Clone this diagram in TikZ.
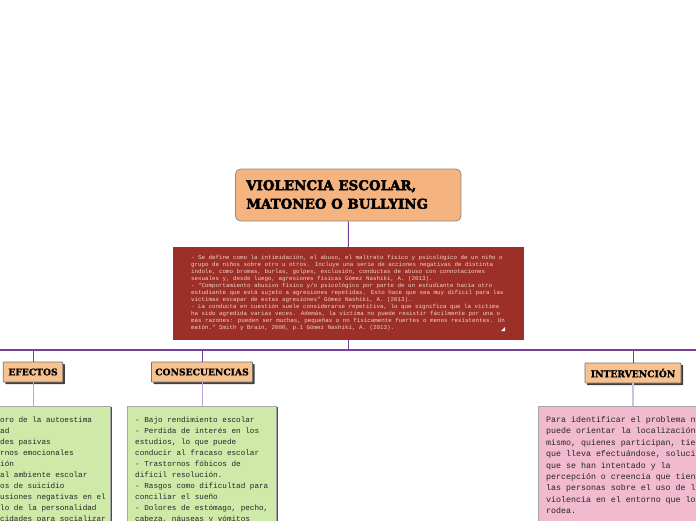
\documentclass[tikz,border=0pt]{standalone}
\usepackage{fontspec}
\usetikzlibrary{shadows}
\setmainfont{Liberation Sans}
\newfontfamily\titlefont[FakeBold=3]{DejaVu Serif Bold}
\newfontfamily\headfont[FakeBold=1]{DejaVu Serif Bold}
\newfontfamily\bodyfont{Liberation Mono}
\definecolor{titlefill}{HTML}{F4B37F}
\definecolor{headfill}{HTML}{F7C290}
\definecolor{descfill}{HTML}{9C2F27}
\definecolor{descink}{HTML}{F2D3C8}
\definecolor{greenfill}{HTML}{CFE9A9}
\definecolor{pinkfill}{HTML}{F1BACE}
\definecolor{trunk}{HTML}{7A3E9D}
\definecolor{twig}{HTML}{BFA3DC}
\tikzset{
	titlebox/.style={draw=black!45,fill=titlefill,rounded corners=5pt,line width=.8pt,inner sep=0pt},
	headbox/.style={draw=black!55,fill=headfill,line width=.7pt,inner sep=0pt,rounded corners=.5pt,
		drop shadow={shadow xshift=2pt,shadow yshift=-2pt,fill=black!75,opacity=1},
		font=\headfont\fontsize{9.2}{10}\selectfont},
	greenbox/.style={draw=black!35,fill=greenfill,line width=.6pt,inner sep=0pt,
		drop shadow={shadow xshift=1.5pt,shadow yshift=-1pt,fill=black!70,opacity=1}},
	pinkbox/.style={draw=black!35,fill=pinkfill,line width=.8pt,inner sep=0pt},
	greentext/.style={anchor=north west,inner sep=0pt,align=left,text=black!85,
		font=\bodyfont\fontsize{7.65}{11}\selectfont},
	pinktext/.style={anchor=north west,inner sep=0pt,align=left,text=black!85,
		font=\bodyfont\fontsize{8.3}{11.45}\selectfont},
}

\begin{document}
\begin{tikzpicture}[x=1pt,y=-1pt]
	\useasboundingbox (0,0) rectangle (696,520);
	\clip (0,0) rectangle (696,520);
	
	%----------------------------
	% Top: title and description
	%----------------------------
	\node[titlebox,minimum width=225.5pt,minimum height=52pt] (title) at (348.25,195) {};
	\node[anchor=west,inner sep=0pt,align=left,font=\titlefont\fontsize{13.4}{18.5}\selectfont] (titletxt) at (246,194.5)
	{VIOLENCIA ESCOLAR,\\MATONEO O BULLYING};
	
	\node[fill=descfill,minimum width=351pt,minimum height=93pt,inner sep=0pt] (desc) at (348.5,293.5) {};
	\node[anchor=north west,inner sep=0pt,align=left,text=descink,
	font=\bodyfont\fontsize{5.83}{7}\selectfont] (desctxt) at (191,255)
	{- Se define como la intimidación, el abuso, el maltrato físico y psicológico de un niño o\\
		grupo de niños sobre otro u otros. Incluye una serie de acciones negativas de distinta\\
		índole, como bromas, burlas, golpes, exclusión, conductas de abuso con connotaciones\\
		sexuales y, desde luego, agresiones físicas Gómez Nashiki, A. (2013).\\
		- "Comportamiento abusivo físico y/o psicológico por parte de un estudiante hacia otro\\
		estudiante que está sujeto a agresiones repetidas. Esto hace que sea muy difícil para las\\
		víctimas escapar de estas agresiones" Gómez Nashiki, A. (2013).\\
		- La conducta en cuestión suele considerarse repetitiva, lo que significa que la víctima\\
		ha sido agredida varias veces. Además, la víctima no puede resistir fácilmente por una o\\
		más razones: pueden ser muchas, pequeñas o no físicamente fuertes o menos resistentes. Un\\
		matón." Smith y Brain, 2000, p.1 Gómez Nashiki, A. (2013).};
	% corner mark
	\fill[white] (505,327) -- (505,331) -- (501,331) -- cycle;
	
	\draw[trunk,line width=1pt] (title) -- (desc);
	
	%----------------------------
	% Middle: main line and headers
	%----------------------------
	\coordinate (trunkL) at (0,350);
	\coordinate (trunkR) at (696,350);
	\coordinate (trunkM) at (desc.south |- trunkL);
	\draw[trunk,line width=1.5pt] (trunkL) -- (trunkR);
	\draw[trunk,line width=1.2pt] (desc) -- (trunkM);
	
	%----------------------------
	% Bottom: text boxes (they run off the page)
	%----------------------------
	\node[greenbox,minimum width=155pt,minimum height=140pt] (efectosbox) at (33,476) {};
	\node[greenbox,minimum width=149pt,minimum height=140pt] (consecbox) at (202,476) {};
	\node[pinkbox,minimum width=190pt,minimum height=140pt] (intervbox) at (633,476) {};
	
	\node[headbox,minimum width=59.5pt,minimum height=20pt] (efectos) at (33,372) {EFECTOS};
	\node[headbox,minimum width=101pt,minimum height=20pt] (consec) at (202,372) {CONSECUENCIAS};
	\node[headbox,minimum width=96pt,minimum height=20pt] (interv) at (633,373) {INTERVENCIÓN};
	
	\foreach \n in {efectos,consec,interv}
	\draw[trunk,line width=.8pt] (\n.north) -- (\n.north |- trunkL);
	
	\draw[twig,line width=.8pt] (efectos) -- (efectosbox);
	\draw[twig,line width=.8pt] (consec) -- (consecbox);
	\draw[twig!70,line width=1.6pt] (interv) -- (intervbox);
	
	\node[greentext] (efectostxt) at (0,416.5)
	{oro de la autoestima\\ad\\des pasivas\\rnos emocionales\\ión\\al ambiente escolar\\
		os de suicidio\\usiones negativas en el\\lo de la personalidad\\cidades para socializar};
	
	\node[greentext] (consectxt) at (135,416.5)
	{- Bajo rendimiento escolar\\
		- Perdida de interés en los\\
		estudios, lo que puede\\
		conducir al fracaso escolar\\
		- Trastornos fóbicos de\\
		difícil resolución.\\
		- Rasgos como dificultad para\\
		conciliar el sueño\\
		- Dolores de estómago, pecho,\\
		cabeza, náuseas y vómitos};
	
	\node[pinktext] (intervtxt) at (546,416)
	{Para identificar el problema n\\
		puede orientar la localización\\
		mismo, quienes participan, tie\\
		que lleva efectuándose, soluci\\
		que se han intentado y la\\
		percepción o creencia que tien\\
		las personas sobre el uso de l\\
		violencia en el entorno que lo\\
		rodea.};
	
\end{tikzpicture}
\end{document}
